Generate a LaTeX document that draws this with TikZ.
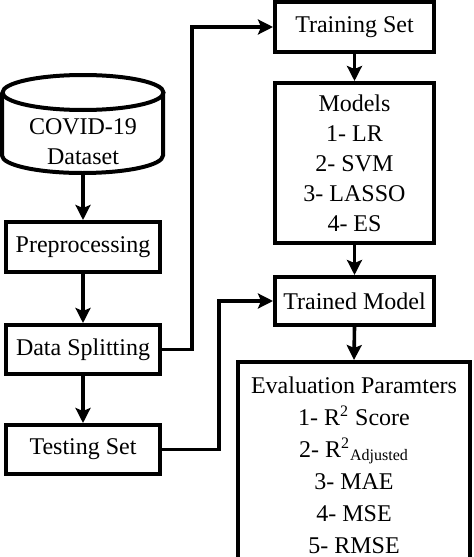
\documentclass[tikz,border=0pt]{standalone}
\usepackage{fontspec}
\setmainfont{Liberation Serif}
\usetikzlibrary{arrows.meta}

\begin{document}
\begin{tikzpicture}[x=0.5pt, y=-0.5pt,
                        box/.style={draw, line width=2pt, fill=white, inner sep=0pt, align=center, font=\fontsize{12}{15}\selectfont},
                        flow/.style={line width=1.8pt, -{Stealth[length=7.5pt, width=7.5pt, inset=1.5pt]}}]
                        \clip (0,0) rectangle (474,557);
                        \node [minimum width=80.5pt, minimum height=49pt, inner sep=0pt] (data) at (83,124) {};
                        \draw [line width=2pt] (83,92.5) ellipse [x radius=40.25pt, y radius=8.75pt];
                        \draw [line width=2pt] (2,92.5) -- (2,155.5) arc [start angle=180, end angle=360, x radius=40.25pt, y radius=8.75pt] -- (163,92.5);
                        \node [align=center, font=\fontsize{12}{15}\selectfont] (datatxt) at (83,142) {COVID-19\\Dataset};
                        \node [box, minimum width=77pt, minimum height=25pt] (prep) at (83,247) {Preprocessing};
                        \node [box, minimum width=77pt, minimum height=24.5pt] (split) at (83,349.5) {Data Splitting};
                        \node [box, minimum width=77pt, minimum height=24.5pt] (test) at (83,449.5) {Testing Set};
                        \node [box, minimum width=79.5pt, minimum height=25pt] (train) at (354.5,27) {Training Set};
                        \node [box, minimum width=79.5pt, minimum height=80pt] (models) at (354.5,163) {Models\\1- LR\\2- SVM\\3- LASSO\\4- ES};
                        \node [box, minimum width=79.5pt, minimum height=24pt] (trained) at (354.5,301) {Trained Model};
                        \node [box, minimum width=116pt, minimum height=103pt, font=\fontsize{12}{16}\selectfont] (eval) at (354,465)
                            {Evaluation Paramters\\1- R\textsuperscript{2} Score\\2- R\textsuperscript{2}\textsubscript{Adjusted}\\3- MAE\\4- MSE\\5- RMSE};
                        \draw [flow] (data.south) -- (prep.north);
                        \draw [flow] (prep.south) -- (split.north);
                        \draw [flow] (split.south) -- (test.north);
                        \draw [flow] (train.south) -- (models.north);
                        \draw [flow] (models.south) -- (trained.north);
                        \draw [flow] (trained.south) -- (eval.north);
                        \draw [flow] (split.east) -- ++(30,0) |- (train.west);
                        \draw [flow] (test.east) -- ++(57,0) |- (trained.west);
                    \end{tikzpicture}
\end{document}
